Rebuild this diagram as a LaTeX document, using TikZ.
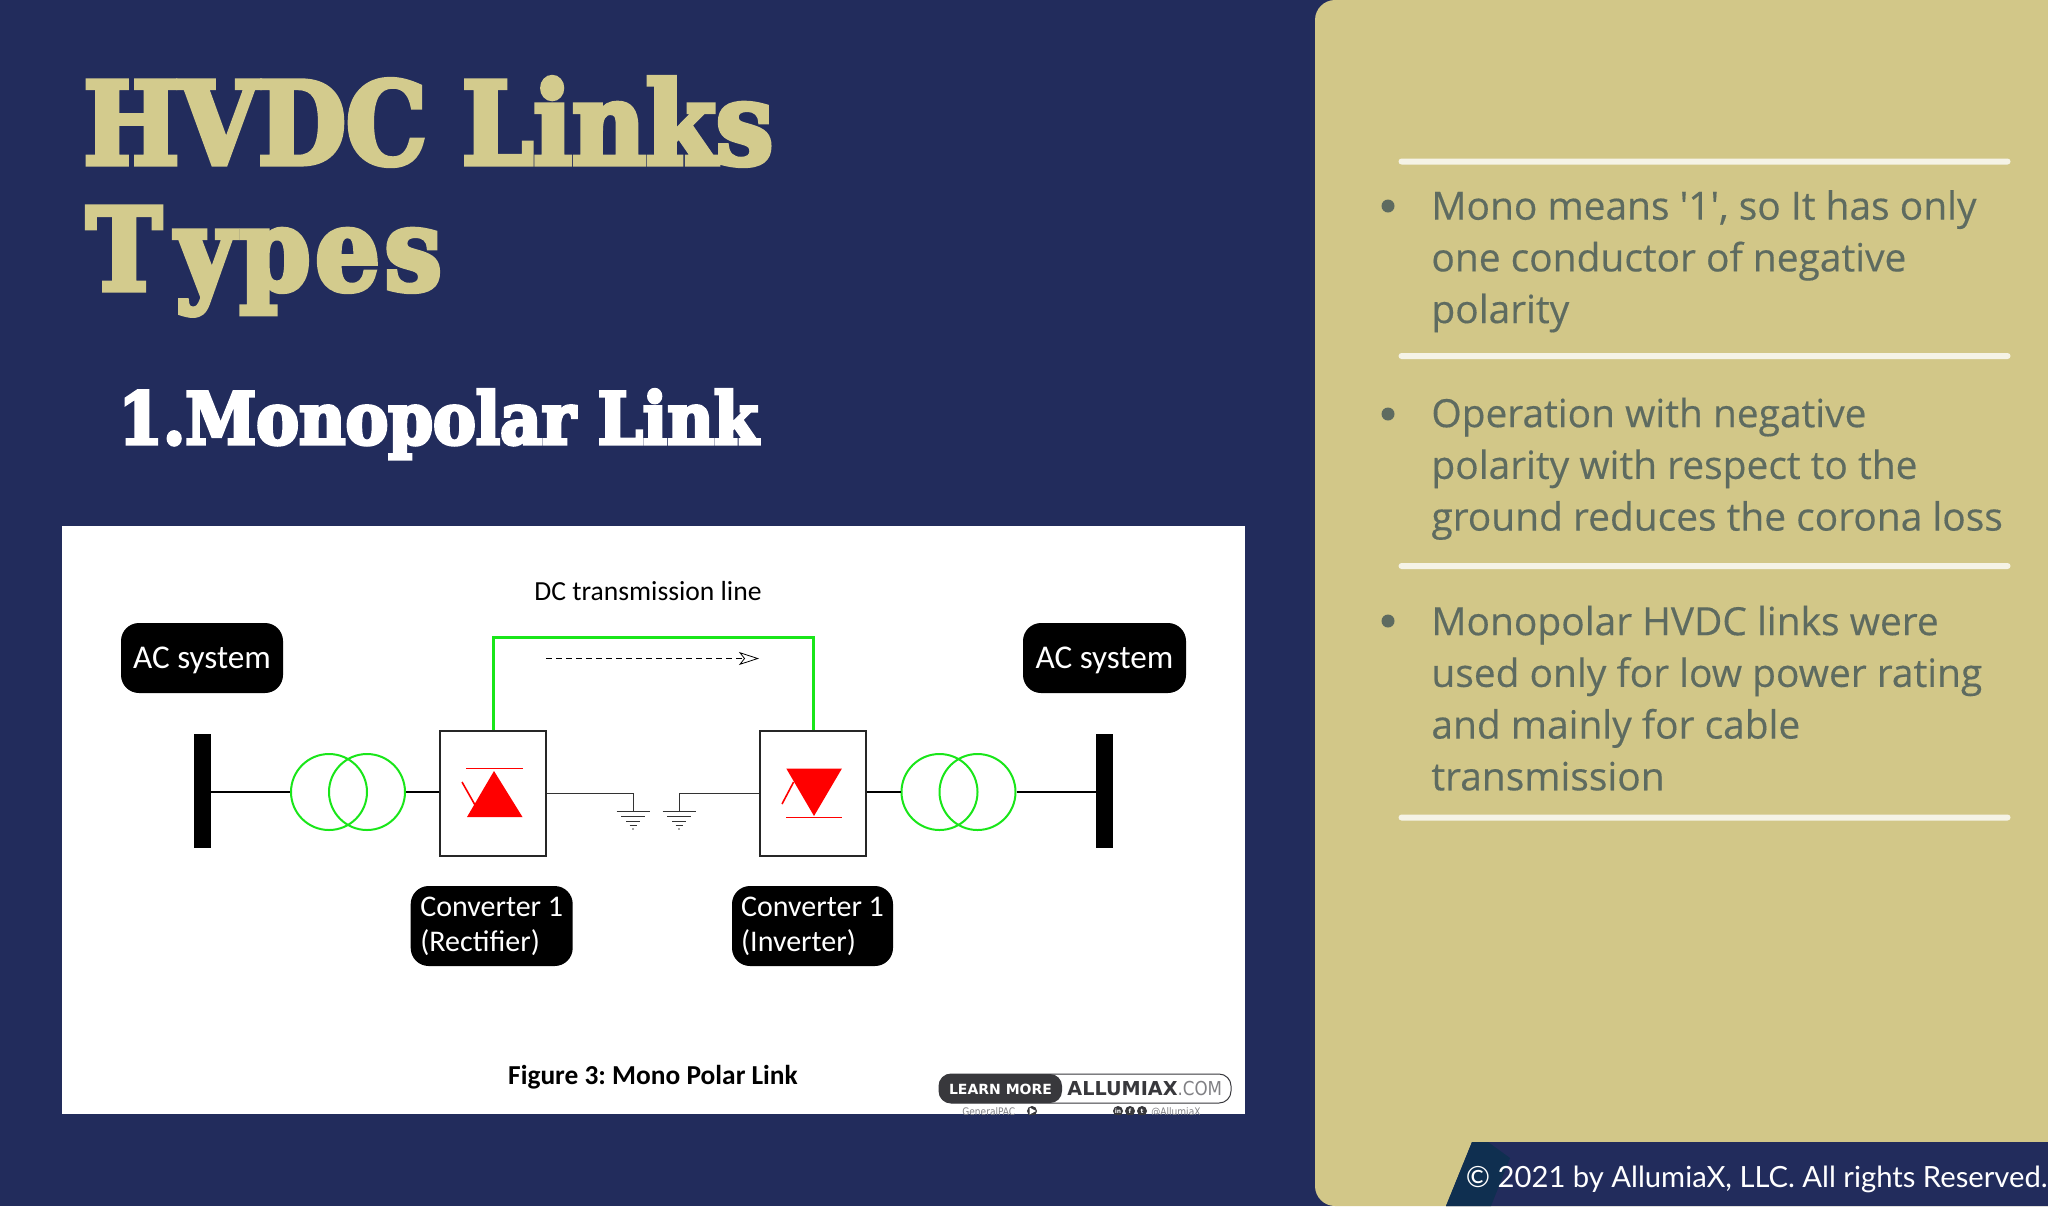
\documentclass[tikz,border=0pt]{standalone}
\usepackage{fontspec}
\usetikzlibrary{arrows.meta,positioning}
\setmainfont{Carlito}
\newfontfamily\titlefont[BoldFeatures={FakeBold=4.5,FakeStretch=0.89}]{DejaVu Serif}
\newfontfamily\bodyfont[FakeBold=0.35]{Open Sans}
\newfontfamily\footfont{Lato}
\newfontfamily\logofont{DejaVu Sans}
\newfontfamily\comfont[FakeStretch=0.87]{DejaVu Sans}
\definecolor{navy}{HTML}{222C5C}
\definecolor{khaki}{HTML}{D2C788}
\definecolor{titlek}{HTML}{D3CB8D}
\definecolor{greytext}{HTML}{5E6B60}
\definecolor{ruleoff}{HTML}{F5F3E6}
\definecolor{tealshade}{HTML}{0F2F50}
\definecolor{gline}{HTML}{19E619}
\definecolor{logodark}{HTML}{38383C}
\definecolor{logogrey}{HTML}{808084}
\tikzset{
  pill/.style={fill=black,rounded corners=9pt,text=white,inner sep=0pt},
  acpill/.style={pill,font=\fontsize{16.6}{18}\selectfont,minimum height=35pt,text height=12pt,text depth=1.7pt},
  convpill/.style={pill,font=\fontsize{15}{17.5}\selectfont,minimum height=40pt,align=left},
  xfmr/.style={circle,draw=gline,line width=1pt,minimum size=38pt,inner sep=0pt},
  hvline/.style={draw=black,line width=1.2pt},
  retline/.style={draw=black!80,line width=0.5pt},
  dcline/.style={draw=gline,line width=1.5pt},
  conv/.style={rectangle,draw=black!85,fill=white,line width=1pt,minimum width=53pt,minimum height=62.5pt,inner sep=0pt},
  busbar/.style={rectangle,fill=black,inner sep=0pt,minimum width=8.5pt,minimum height=57pt},
  sepline/.style={rectangle,fill=ruleoff,rounded corners=1.5pt,inner sep=0pt,minimum width=306pt,minimum height=3pt},
  bodytxt/.style={font=\bodyfont\fontsize{19.45}{25.85}\selectfont,text=greytext,anchor=north west,inner sep=0pt,align=left},
  bulletdot/.style={circle,fill=greytext,inner sep=0pt,minimum size=6.5pt},
  icondot/.style={circle,fill=logodark,inner sep=0pt,minimum size=5pt,text=white,font=\logofont\bfseries\fontsize{3}{3}\selectfont},
  smalllogo/.style={text=logogrey,inner sep=0pt,font=\comfont\fontsize{5.2}{6}\selectfont},
  ground/.pic={
    \draw[retline] (-16.5,0) -- (16.5,0) (-12,5) -- (12,5) (-6.7,10) -- (6.7,10) (-3.5,14.5) -- (3.5,14.5);
    \fill[black!70] (0,18) circle (0.4pt);
  }
}
\begin{document}
\frenchspacing
\begin{tikzpicture}[x=0.5pt,y=-0.5pt]
\useasboundingbox (0,0) rectangle (2048,1206);
\fill[navy] (0,0) rectangle (2048,1206);
% right panel
\fill[khaki,rounded corners=10pt] (2048,0) -- (1315,0) -- (1315,1206) [sharp corners] -- (2048,1206) -- cycle;
% footer
\fill[navy] (1472,1142) -- (2048,1142) -- (2048,1206) -- (1446,1206) -- cycle;
\fill[tealshade] (1472,1142) -- (1488,1142) -- (1510,1158) -- (1491,1206) -- (1446,1206) -- cycle;
\node[font=\footfont\fontsize{14.6}{18}\selectfont,text=white,anchor=base west,inner sep=0pt] (copy) at (1465.5,1187) {© 2021 by AllumiaX, LLC. All rights Reserved.};
% titles
\node[font=\titlefont\bfseries\fontsize{57}{63}\selectfont,text=titlek,anchor=north west,inner sep=0pt,align=left] (title) at (83,77) {HVDC Links\\\kern1.5pt T\kern7pt y\kern2.4pt p\kern2.4pt e\kern2.4pt s};
\node[font=\titlefont\bfseries\fontsize{36}{40}\selectfont,text=white,anchor=north west,inner sep=0pt] (sub) at (118,389) {1.Monopolar Link};
% right text
\node[sepline] (r1) at (1704.5,161.5) {};
\node[sepline] (r2) at (1704.5,356) {};
\node[sepline] (r3) at (1704.5,566) {};
\node[sepline] (r4) at (1704.5,817.5) {};
\node[bulletdot] (b1) at (1388,206) {};
\node[bulletdot] (b2) at (1388,414) {};
\node[bulletdot] (b3) at (1388,621) {};
\node[bodytxt] (t1) at (1431,189.7) {Mono means '1', so It has only\\one conductor of negative\\polarity};
\node[bodytxt] (t2) at (1431,397.2) {Operation with negative\\polarity with respect to the\\ground reduces the corona loss};
\node[bodytxt] (t3) at (1431,605.2) {Monopolar HVDC links were\\used only for low power rating\\and mainly for cable\\transmission};
% white figure
\fill[white] (62,525.5) rectangle (1245,1114);
\node[font=\fontsize{13.8}{15}\selectfont,inner sep=0pt] (dctext) at (648,591) {DC transmission line};
\node[acpill,minimum width=81pt] (ac1) at (202,658) {AC system};
\node[acpill,minimum width=81.5pt] (ac2) at (1104.5,658) {AC system};
\node[busbar] (bus1) at (202,791) {};
\node[busbar] (bus2) at (1104.7,791) {};
\node[xfmr] (x1a) at (329,792) {};
\node[xfmr] (x1b) at (367,792) {};
\node[xfmr] (x2a) at (939.5,792) {};
\node[xfmr] (x2b) at (977.5,792) {};
\node[conv] (c1) at (493,793) {};
\node[conv] (c2) at (813,793) {};
\draw[hvline] (bus1.east |- x1a.west) -- (x1a.west);
\draw[hvline] (x1b.east) -- (x1b.east -| c1.west);
\draw[hvline] (x2a.west -| c2.east) -- (x2a.west);
\draw[hvline] (x2b.east) -- (bus2.west |- x2b.east);
\coordinate (g1) at (633,811);
\coordinate (g2) at (679,811);
\draw[retline] (c1.east) -| (g1);
\draw[retline] (c2.west) -| (g2);
\pic at (g1) {ground};
\pic at (g2) {ground};
\coordinate (dctop) at (493,637);
\draw[dcline] (c1.north) -- (dctop) -| (c2.north);
\coordinate (da) at (546,658.5);
\coordinate (db) at (759,658.5);
\draw[black,line width=0.7pt,dash pattern=on 3pt off 2pt,-{Stealth[open,length=10pt,width=6.5pt,inset=2.5pt,line width=0.4pt]}] (da) -- (db);
% thyristors
\fill[red] (494,771) -- (522.5,817) -- (467,817) -- cycle;
\draw[red,line width=0.8pt] (466,768.5) -- (523,768.5);
\draw[red,line width=0.8pt] (462,782) -- (475,805);
\fill[red] (786.4,768.7) -- (841.8,768.7) -- (814,816) -- cycle;
\draw[red,line width=0.8pt] (786,817.5) -- (842,817.5);
\draw[red,line width=0.8pt] (782,804) -- (793.6,782);
% converter labels
\node[convpill,minimum width=81pt] (l1) at (491.7,926) {Converter 1\\(Rectifier)};
\node[convpill,minimum width=80.5pt] (l2) at (812.5,926) {Converter 1\\(Inverter)};
\node[font=\bfseries\fontsize{13.7}{16}\selectfont,inner sep=0pt] (cap) at (653,1077.5) {Figure 3: Mono Polar Link};
% logo
\begin{scope}
\clip (62,525.5) rectangle (1245,1114);
\draw[logodark,fill=white,line width=0.5pt,rounded corners=6pt] (939,1074) rectangle (1231,1103);
\fill[logodark,rounded corners=6pt] (939,1074) rectangle (1062,1103);
\node[text=white,font=\logofont\bfseries\fontsize{7}{8}\selectfont,inner sep=0pt] (learn) at (1000.5,1089) {LEARN MORE};
\node[anchor=base west,inner sep=0pt,text=logodark,font=\logofont\fontsize{9.6}{12}\selectfont] (site) at (1067,1095) {\textbf{ALLUMIAX}{\comfont\color{logogrey}.COM}};
\node[smalllogo,anchor=base west] (gp) at (962,1115) {GeneralPAC};
\node[icondot] (play) at (1032,1111) {};
\fill[white] (1029.5,1107.5) -- (1036,1111) -- (1029.5,1114.5) -- cycle;
\node[icondot] (in) at (1118,1111) {in};
\node[icondot] (fb) at (1130,1111) {f};
\node[icondot] (tw) at (1142,1111) {t};
\node[smalllogo,anchor=base west] (handle) at (1151,1115) {@AllumiaX};
\end{scope}
\end{tikzpicture}
\end{document}
